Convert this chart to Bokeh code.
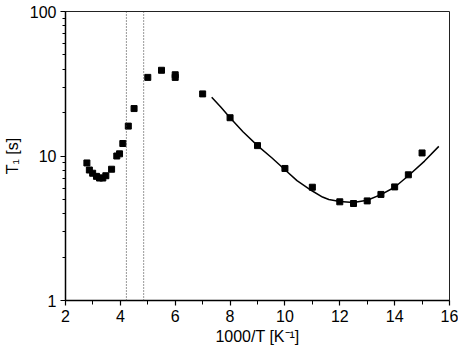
from bokeh.plotting import figure
from bokeh.models import FixedTicker, ColumnDataSource, Span
from bokeh.embed import file_html
from bokeh.resources import INLINE

# measured points: 1000/T [1/K] and T1 [s]
inv_T = [2.78, 2.87, 2.99, 3.13, 3.24, 3.36, 3.47, 3.68, 3.87, 3.97, 4.09, 4.29,
         4.50, 5.0, 5.5, 6.0, 6.0, 7.0, 8.0, 9.0, 10.0, 11.0, 12.0, 12.5, 13.0,
         13.5, 14.0, 14.5, 15.0]
T1 = [8.95, 8.0, 7.6, 7.23, 7.04, 7.04, 7.3, 8.1, 10.0, 10.35, 12.2, 16.1,
      21.3, 35.0, 39.2, 36.5, 35.0, 26.9, 18.4, 11.8, 8.2, 6.08, 4.82, 4.69, 4.89,
      5.42, 6.11, 7.41, 10.5]

# fitted curve
fit_inv_T = [7.33, 7.66, 8.0, 8.47, 9.0, 9.52, 9.98, 10.44, 10.97, 11.37, 11.6,
             12.0, 12.5, 13.0, 13.5, 14.0, 14.5, 15.09, 15.61]
fit_T1 = [25.5, 21.8, 18.4, 14.7, 11.8, 9.72, 8.1, 6.75, 5.77, 5.2, 5.0,
          4.85, 4.77, 4.94, 5.40, 6.08, 7.30, 9.22, 11.66]

# dotted vertical markers
vline_x = [4.22, 4.85]

x_major = [2, 4, 6, 8, 10, 12, 14, 16]
x_minor = [3, 5, 7, 9, 11, 13, 15]
y_major = [1, 10, 100]
y_minor = [2, 3, 4, 5, 6, 7, 8, 9, 20, 30, 40, 50, 60, 70, 80, 90]

FONT = "Liberation Sans"

p = figure(width=458, height=347, y_axis_type="log",
           x_range=(2, 16), y_range=(1, 100),
           output_backend="svg", toolbar_location=None,
           min_border_left=55, min_border_right=9, min_border_top=11,
           min_border_bottom=44)
p.grid.visible = False
p.outline_line_color = "#222222"
p.outline_line_width = 1
p.background_fill_color = "white"
p.border_fill_color = "white"

src = ColumnDataSource(dict(x=inv_T, y=T1))
fit = ColumnDataSource(dict(x=fit_inv_T, y=fit_T1))

for vx in vline_x:
    p.add_layout(Span(location=vx, dimension="height", line_color="#333333",
                      line_dash="1 2", line_width=1))

p.line("x", "y", source=fit, line_color="black", line_width=1.5)
p.scatter("x", "y", source=src, marker="square", size=6,
          fill_color="black", line_color="black")

xa = p.xaxis[0]
xa.ticker = FixedTicker(ticks=x_major, minor_ticks=x_minor)
xa.axis_label = "1000/T [K\u207b\u00b9]"
ya = p.yaxis[0]
ya.ticker = FixedTicker(ticks=y_major, minor_ticks=y_minor)
ya.major_label_overrides = {1: "1", 10: "10", 100: "100"}
ya.axis_label = "T\u2081 [s]"

for ax in (xa, ya):
    ax.axis_line_color = "black"
    ax.axis_line_width = 1.5
    ax.major_tick_line_color = "black"
    ax.minor_tick_line_color = "black"
    ax.major_tick_line_width = 1.2
    ax.minor_tick_line_width = 1
    ax.major_tick_in = 0
    ax.minor_tick_in = 0
    ax.major_tick_out = 5
    ax.minor_tick_out = 3
    ax.major_label_text_font = FONT
    ax.major_label_text_font_size = "16px"
    ax.major_label_text_color = "black"
    ax.axis_label_text_font = FONT
    ax.axis_label_text_font_size = "16px"
    ax.axis_label_text_font_style = "normal"
    ax.axis_label_text_color = "black"

xa.major_label_standoff = 4
xa.axis_label_standoff = 3
ya.major_label_standoff = 4
ya.axis_label_standoff = 6
xa.minor_tick_out = 4

open("out.html", "w").write(file_html(p, INLINE))
